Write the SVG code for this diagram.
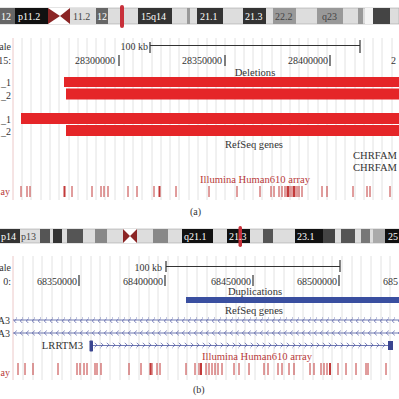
<svg xmlns="http://www.w3.org/2000/svg" width="399" height="399" viewBox="0 0 399 399">
<defs>
<style>
text{font-family:"Liberation Serif","DejaVu Serif",serif;font-size:10px;fill:#333}
.lg{font-size:10.6px}
.w{fill:#fff}
.d{fill:#444}
.rd{fill:#b83a3a}
.grid{stroke:#e2e2e2;stroke-width:1}
.tick{stroke:#333;stroke-width:1.2}
.snp{stroke:#c23a3a;stroke-width:1}
.snp2{stroke:#c23a3a;stroke-width:2}
.del{fill:#e52528}
.gene{fill:#3a4590}
</style>
<pattern id="lt" x="13" y="0" width="6" height="6" patternUnits="userSpaceOnUse">
<path d="M3.8 0.6 L1.2 3 L3.8 5.4" fill="none" stroke="#4a55a0" stroke-width="0.7"/>
</pattern>
<pattern id="gt" x="93" y="0" width="6" height="6" patternUnits="userSpaceOnUse">
<path d="M1.5 0.6 L4.1 3 L1.5 5.4" fill="none" stroke="#4a55a0" stroke-width="0.7"/>
</pattern>
</defs>
<rect width="399" height="399" fill="#fff"/>

<!-- Panel A -->
<g id="ideogram-a">
<rect x="0" y="8" width="399" height="16" fill="#ddd" stroke="#999" stroke-width="0.5"/>
<rect x="0" y="8" width="15" height="16" fill="#666"/>
<rect x="15" y="8" width="33" height="16" fill="#111"/>
<rect x="48" y="8" width="22" height="16" fill="#fff"/>
<path d="M48 8 L60 16 L48 24 Z M70 8 L60 16 L70 24 Z" fill="#8b2525"/>
<rect x="70" y="8" width="26" height="16" fill="#ddd"/>
<rect x="96" y="8" width="12" height="16" fill="#666"/>
<rect x="138" y="8" width="34" height="16" fill="#333"/>
<rect x="187" y="8" width="3" height="16" fill="#999"/>
<rect x="197" y="8" width="26" height="16" fill="#333"/>
<rect x="243" y="8" width="23" height="16" fill="#333"/>
<rect x="273" y="8" width="23" height="16" fill="#999"/>
<rect x="317" y="8" width="26" height="16" fill="#999"/>
<rect x="358" y="8" width="5" height="16" fill="#999"/>
<rect x="365" y="8" width="8" height="16" fill="#f4f4f4"/>
<rect x="373" y="8" width="17" height="16" fill="#444"/>
<rect x="120" y="5" width="4" height="23" rx="2" fill="#c8303a"/>
<text x="1" y="20" class="w">12</text>
<text x="18" y="20" class="w">p11.2</text>
<text x="73" y="20" class="d">11.2</text>
<text x="97" y="20" class="w">12</text>
<text x="141" y="20" class="w">15q14</text>
<text x="200" y="20" class="w">21.1</text>
<text x="245" y="20" class="w">21.3</text>
<text x="275" y="20" class="d">22.2</text>
<text x="322" y="20" class="d">q23</text>
</g>

<g id="grid-a">
<line x1="13" y1="38" x2="13" y2="200" stroke="#ecc8c8"/>
<path class="grid" d="M22 38V200M31 38V200M41 38V200M50 38V200M59 38V200M69 38V200M78 38V200M87 38V200M96 38V200M105 38V200M115 38V200M124 38V200M133 38V200M142 38V200M152 38V200M161 38V200M170 38V200M179 38V200M189 38V200M198 38V200M207 38V200M216 38V200M225 38V200M235 38V200M244 38V200M253 38V200M262 38V200M272 38V200M281 38V200M290 38V200M299 38V200M308 38V200M318 38V200M327 38V200M336 38V200M345 38V200M355 38V200M364 38V200M373 38V200M382 38V200M392 38V200"/>
</g>

<g id="scale-a">
<text x="11" y="50" text-anchor="end">ale</text>
<text x="148" y="50" text-anchor="end">100 kb</text>
<path class="tick" d="M150 42V53M150 45.5H360M360 40V53" stroke="#555"/>
<text x="11" y="64" text-anchor="end">15:</text>
<text x="115" y="64" text-anchor="end">28300000</text>
<text x="222" y="64" text-anchor="end">28350000</text>
<text x="328" y="64" text-anchor="end">28400000</text>
<text x="391" y="64">2</text>
<path class="tick" d="M119 55V66M225 55V66M330 55V66"/>
</g>

<g id="deletions">
<text x="255" y="76" text-anchor="middle" class="lg">Deletions</text>
<text x="11" y="86" text-anchor="end">_1</text>
<text x="11" y="99" text-anchor="end">_2</text>
<text x="11" y="123" text-anchor="end">_1</text>
<text x="11" y="135" text-anchor="end">_2</text>
<rect class="del" x="64" y="77" width="335" height="10"/>
<rect class="del" x="66" y="88.5" width="333" height="11"/>
<rect class="del" x="21" y="113" width="378" height="11"/>
<rect class="del" x="66" y="125" width="333" height="11"/>
</g>

<g id="refseq-a">
<text x="225" y="148" class="lg">RefSeq genes</text>
<text x="353" y="159" class="lg">CHRFAM</text>
<text x="353" y="171" class="lg">CHRFAM</text>
</g>

<g id="array-a">
<text x="200" y="183" class="rd lg">Illumina Human610 array</text>
<text x="10" y="195" text-anchor="end" class="rd">ay</text>
<path class="snp" d="M21 186V197M27 186V197M30 186V197M72 186V197M92 186V197M101 186V197M104 186V197M108 186V197M128 186V197M137 186V197M154 186V197M176 186V197M209 186V197M237 186V197M260 186V197M271 186V197M274 186V197M279 186V197M282 186V197M285 186V197M287 186V197M289 186V197M291 186V197M293 186V197M295 186V197M297 186V197M299 186V197M302 186V197M322 186V197M327 186V197M353 186V197M367 186V197M370 186V197M390 186V197"/>
<path class="snp2" d="M64.5 186V197M159.5 186V197M288 186V197M294 186V197"/>
</g>

<text x="190" y="215">(a)</text>

<!-- Panel B -->
<g id="ideogram-b">
<rect x="0" y="229" width="399" height="14" fill="#ddd" stroke="#999" stroke-width="0.5"/>
<rect x="0" y="229" width="20" height="14" fill="#333"/>
<rect x="40" y="229" width="10" height="14" fill="#555"/>
<rect x="53" y="229" width="9" height="14" fill="#333"/>
<rect x="67" y="229" width="16" height="14" fill="#555"/>
<rect x="95" y="229" width="12" height="14" fill="#888"/>
<rect x="123" y="229" width="14" height="14" fill="#fff"/>
<path d="M123 229 L130 236 L123 243 Z M137 229 L130 236 L137 243 Z" fill="#8b2525"/>
<rect x="153" y="229" width="15" height="14" fill="#888"/>
<rect x="182" y="229" width="31" height="14" fill="#111"/>
<rect x="227" y="229" width="23" height="14" fill="#111"/>
<rect x="263" y="229" width="10" height="14" fill="#555"/>
<rect x="295" y="229" width="28" height="14" fill="#111"/>
<rect x="323" y="229" width="12" height="14" fill="#444"/>
<rect x="341" y="229" width="14" height="14" fill="#555"/>
<rect x="361" y="229" width="9" height="14" fill="#777"/>
<rect x="373" y="229" width="12" height="14" fill="#aaa"/>
<rect x="385" y="229" width="14" height="14" fill="#111"/>
<rect x="238.5" y="226" width="3.5" height="21" rx="1.7" fill="#c8303a"/>
<text x="1" y="240" class="w">p14</text>
<text x="21" y="240" class="d">p13</text>
<text x="184" y="240" class="w">q21.1</text>
<text x="229" y="240" class="w">21.3</text>
<text x="297" y="240" class="w">23.1</text>
<text x="388" y="240" class="w">25</text>
</g>

<g id="grid-b">
<line x1="13" y1="256" x2="13" y2="380" stroke="#ecc8c8"/>
<path class="grid" d="M23 256V380M33 256V380M42 256V380M52 256V380M62 256V380M71 256V380M81 256V380M91 256V380M100 256V380M110 256V380M120 256V380M129 256V380M139 256V380M149 256V380M158 256V380M168 256V380M178 256V380M187 256V380M197 256V380M207 256V380M216 256V380M226 256V380M236 256V380M245 256V380M255 256V380M265 256V380M274 256V380M284 256V380M294 256V380M303 256V380M313 256V380M323 256V380M332 256V380M342 256V380M352 256V380M361 256V380M371 256V380M381 256V380M390 256V380"/>
</g>

<g id="scale-b">
<text x="11" y="271" text-anchor="end">ale</text>
<text x="162" y="271" text-anchor="end">100 kb</text>
<path class="tick" d="M166 261V272M166 266.5H340M340 260V272" stroke="#555"/>
<text x="11" y="285" text-anchor="end">0:</text>
<text x="77" y="285" text-anchor="end">68350000</text>
<text x="163" y="285" text-anchor="end">68400000</text>
<text x="251" y="285" text-anchor="end">68450000</text>
<text x="337" y="285" text-anchor="end">68500000</text>
<text x="383" y="285">685</text>
<path class="tick" d="M79 275V286M165 275V286M253 275V286M339 275V286"/>
</g>

<g id="duplications">
<text x="255" y="295" text-anchor="middle" class="lg">Duplications</text>
<rect x="186" y="297" width="213" height="6" fill="#3a4fa0"/>
</g>

<g id="refseq-b">
<text x="225" y="314" class="lg">RefSeq genes</text>
<text x="10" y="324" text-anchor="end">A3</text>
<text x="10" y="337" text-anchor="end">A3</text>
<line x1="13" y1="320" x2="399" y2="320" stroke="#4a55a0" stroke-width="0.8"/>
<rect x="13" y="317" width="386" height="6" fill="url(#lt)"/>
<line x1="13" y1="333" x2="399" y2="333" stroke="#4a55a0" stroke-width="0.8"/>
<rect x="13" y="330" width="386" height="6" fill="url(#lt)"/>
<text x="83" y="349" text-anchor="end" class="lg">LRRTM3</text>
<line x1="93" y1="345.5" x2="389" y2="345.5" stroke="#4a55a0" stroke-width="0.8"/>
<rect x="93" y="342.5" width="295" height="6" fill="url(#gt)"/>
<rect class="gene" x="89.5" y="340.5" width="3.5" height="11" rx="0.8"/>
<rect class="gene" x="388" y="341" width="5" height="9"/>
</g>

<g id="array-b">
<text x="202" y="360" class="rd lg">Illumina Human610 array</text>
<text x="10" y="376" text-anchor="end" class="rd">ay</text>
<path class="snp" d="M18 363V375M25 363V375M33 363V375M58 363V375M77 363V375M80 363V375M84 363V375M87 363V375M95 363V375M97 363V375M101 363V375M129 363V375M141 363V375M152 363V375M157 363V375M160 363V375M186 363V375M195 363V375M199 363V375M206 363V375M209 363V375M212 363V375M215 363V375M218 363V375M222 363V375M234 363V375M239 363V375M249 363V375M264 363V375M268 363V375M278 363V375M282 363V375M289 363V375M294 363V375M310 363V375M314 363V375M321 363V375M324 363V375M327 363V375M330 363V375M338 363V375M346 363V375M356 363V375M366 363V375M368 363V375M386 363V375"/>
<path class="snp2" d="M150.5 363V375M201 363V375M330 363V375"/>
</g>

<text x="193" y="393">(b)</text>
</svg>
